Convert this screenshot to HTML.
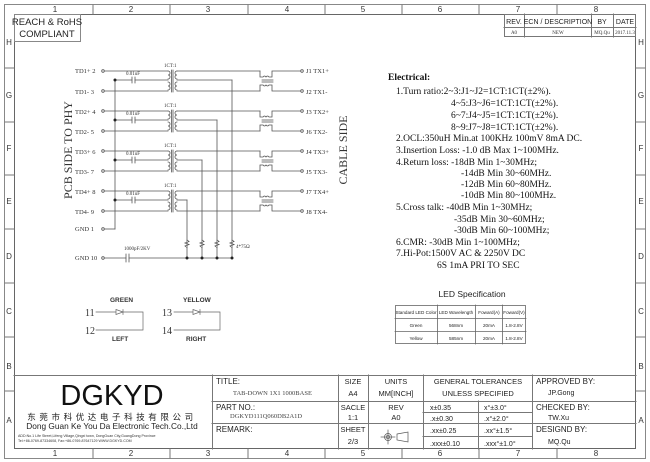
<!DOCTYPE html>
<html><head><meta charset="utf-8"><style>
html,body{margin:0;padding:0;background:#fff}
svg{display:block}
.s{font-family:"Liberation Serif",serif}
.a{font-family:"Liberation Sans",sans-serif}
</style></head><body>
<svg width="650" height="462" viewBox="0 0 650 462" xmlns="http://www.w3.org/2000/svg" stroke-linecap="square">
<rect x="0" y="0" width="650" height="462" fill="#fff"/>
<rect x="4.5" y="4.5" width="641" height="454" fill="none" stroke="#888" stroke-width="1"/>
<rect x="14.5" y="14.5" width="621" height="434" fill="none" stroke="#666" stroke-width="1"/>
<g stroke="#777" stroke-width="1">
<line x1="93" y1="5" x2="93" y2="14"/><line x1="170" y1="5" x2="170" y2="14"/><line x1="248" y1="5" x2="248" y2="14"/><line x1="325" y1="5" x2="325" y2="14"/><line x1="402" y1="5" x2="402" y2="14"/><line x1="479" y1="5" x2="479" y2="14"/><line x1="557" y1="5" x2="557" y2="14"/>
<line x1="93" y1="449" x2="93" y2="458"/><line x1="170" y1="449" x2="170" y2="458"/><line x1="248" y1="449" x2="248" y2="458"/><line x1="325" y1="449" x2="325" y2="458"/><line x1="402" y1="449" x2="402" y2="458"/><line x1="479" y1="449" x2="479" y2="458"/><line x1="557" y1="449" x2="557" y2="458"/>
<line x1="5" y1="68" x2="14" y2="68"/><line x1="5" y1="122" x2="14" y2="122"/><line x1="5" y1="175" x2="14" y2="175"/><line x1="5" y1="229" x2="14" y2="229"/><line x1="5" y1="283" x2="14" y2="283"/><line x1="5" y1="337" x2="14" y2="337"/><line x1="5" y1="391" x2="14" y2="391"/>
<line x1="636" y1="68" x2="645" y2="68"/><line x1="636" y1="122" x2="645" y2="122"/><line x1="636" y1="175" x2="645" y2="175"/><line x1="636" y1="229" x2="645" y2="229"/><line x1="636" y1="283" x2="645" y2="283"/><line x1="636" y1="337" x2="645" y2="337"/><line x1="636" y1="391" x2="645" y2="391"/>
</g>
<g class="a" font-size="8" fill="#333" text-anchor="middle">
<text x="55" y="12">1</text><text x="131" y="12">2</text><text x="208" y="12">3</text><text x="287" y="12">4</text><text x="363" y="12">5</text><text x="440" y="12">6</text><text x="518" y="12">7</text><text x="596" y="12">8</text>
<text x="55" y="456">1</text><text x="131" y="456">2</text><text x="208" y="456">3</text><text x="287" y="456">4</text><text x="363" y="456">5</text><text x="440" y="456">6</text><text x="518" y="456">7</text><text x="596" y="456">8</text>
<text x="9" y="45">H</text><text x="9" y="98">G</text><text x="9" y="151">F</text><text x="9" y="204">E</text><text x="9" y="259">D</text><text x="9" y="314">C</text><text x="9" y="369">B</text><text x="9" y="423">A</text>
<text x="641" y="45">H</text><text x="641" y="98">G</text><text x="641" y="151">F</text><text x="641" y="204">E</text><text x="641" y="259">D</text><text x="641" y="314">C</text><text x="641" y="369">B</text><text x="641" y="423">A</text>
</g>
<rect x="14.5" y="14.5" width="66" height="27" fill="none" stroke="#888"/>
<text class="a" x="47" y="25" font-size="9.5" text-anchor="middle" fill="#222">REACH &amp; RoHS</text>
<text class="a" x="47" y="37" font-size="9.5" text-anchor="middle" fill="#222">COMPLIANT</text>
<g stroke="#777" fill="none"><rect x="504.5" y="14.5" width="131" height="22"/><line x1="504" y1="27.5" x2="636" y2="27.5"/><line x1="524.5" y1="14" x2="524.5" y2="37"/><line x1="591.5" y1="14" x2="591.5" y2="37"/><line x1="613.5" y1="14" x2="613.5" y2="37"/></g>
<g class="a" font-size="7" fill="#222" text-anchor="middle"><text x="514" y="24">REV.</text><text x="558" y="24">ECN / DESCRIPTION</text><text x="602" y="24">BY</text><text x="625" y="24">DATE</text></g>
<g class="s" font-size="5" fill="#333" text-anchor="middle"><text x="514" y="34">A0</text><text x="558" y="34">NEW</text><text x="602" y="34">MQ.Qu</text><text x="625" y="34">2017.11.3</text></g>

<g class="s" font-size="6.5" fill="#333">
<text x="75" y="73">TD1+ 2</text><text x="75" y="94">TD1- 3</text><text x="75" y="114">TD2+ 4</text><text x="75" y="134">TD2- 5</text><text x="75" y="154">TD3+ 6</text><text x="75" y="174">TD3- 7</text><text x="75" y="194">TD4+ 8</text><text x="75" y="214">TD4- 9</text><text x="75" y="231">GND 1</text><text x="75" y="260">GND 10</text>
<text x="306" y="73">J1 TX1+</text><text x="306" y="94">J2 TX1-</text><text x="306" y="114">J3 TX2+</text><text x="306" y="134">J6 TX2-</text><text x="306" y="154">J4 TX3+</text><text x="306" y="174">J5 TX3-</text><text x="306" y="194">J7 TX4+</text><text x="306" y="214">J8 TX4-</text>
</g>
<g class="s" font-size="5" fill="#333">
<text x="126" y="75">0.01uF</text><text x="126" y="115">0.01uF</text><text x="126" y="155">0.01uF</text><text x="126" y="195">0.01uF</text>
<text x="164" y="67">1CT:1</text><text x="164" y="107">1CT:1</text><text x="164" y="147">1CT:1</text><text x="164" y="187">1CT:1</text>
<text x="124" y="250">1000pF/2KV</text><text x="236" y="248">4*75Ω</text>
</g>
<text class="s" transform="translate(72,150) rotate(-90)" font-size="12" text-anchor="middle" fill="#333">PCB SIDE TO PHY</text>
<text class="s" transform="translate(347,150) rotate(-90)" font-size="12" text-anchor="middle" fill="#333">CABLE SIDE</text>
<g stroke="#555" stroke-width="0.8" fill="none">
<g id="ch">
<circle cx="103" cy="71" r="1.3"/><circle cx="103" cy="91" r="1.3"/>
<line x1="105" y1="71" x2="168" y2="71"/><line x1="105" y1="91" x2="168" y2="91"/>
<line x1="115" y1="80" x2="132" y2="80"/><line x1="132" y1="77" x2="132" y2="83"/><line x1="135" y1="77" x2="135" y2="83"/><line x1="135" y1="80" x2="168" y2="80"/>
<path d="M168 71 a2 2 0 0 1 0 4 a2 2 0 0 1 0 4 M168 82 a2 2 0 0 1 0 4 a2 2 0 0 1 0 4"/>
<line x1="171.5" y1="70" x2="171.5" y2="92"/><line x1="173" y1="70" x2="173" y2="92"/>
<path d="M177 71 a2 2 0 0 0 0 4 a2 2 0 0 0 0 4 M177 82 a2 2 0 0 0 0 4 a2 2 0 0 0 0 4"/>
<line x1="177" y1="71" x2="260" y2="71"/><line x1="177" y1="91" x2="260" y2="91"/>
<path d="M260 71 v6 h3 q1.5 -2 3 0 q1.5 -2 3 0 h3 v-6 h28"/>
<path d="M260 91 v-6 h3 q1.5 2 3 0 q1.5 2 3 0 h3 v6 h28"/>
<line x1="262" y1="80" x2="273" y2="80"/><line x1="262" y1="82" x2="273" y2="82"/>
<circle cx="302" cy="71" r="1.3"/><circle cx="302" cy="91" r="1.3"/>
</g>
<use href="#ch" y="40"/><use href="#ch" y="80"/><use href="#ch" y="120"/>
<line x1="177" y1="80" x2="232" y2="80"/><line x1="232" y1="80" x2="232" y2="258"/>
<line x1="177" y1="120" x2="217" y2="120"/><line x1="217" y1="120" x2="217" y2="258"/>
<line x1="177" y1="160" x2="202" y2="160"/><line x1="202" y1="160" x2="202" y2="258"/>
<line x1="177" y1="200" x2="187" y2="200"/><line x1="187" y1="200" x2="187" y2="258"/>
<line x1="115" y1="80" x2="115" y2="229"/>
<circle cx="103" cy="229" r="1.3"/><line x1="105" y1="229" x2="115" y2="229"/>
<circle cx="103" cy="258" r="1.3"/><line x1="105" y1="258" x2="126" y2="258"/>
<line x1="126" y1="254" x2="126" y2="262"/><line x1="129" y1="254" x2="129" y2="262"/><line x1="129" y1="258" x2="232" y2="258"/>
</g>
<g stroke="#555" stroke-width="0.8" fill="#fff">
<path d="M187 240 l2 1.5 l-4 1.5 l4 1.5 l-4 1.5 l2 1.5"/><path d="M202 240 l2 1.5 l-4 1.5 l4 1.5 l-4 1.5 l2 1.5"/><path d="M217 240 l2 1.5 l-4 1.5 l4 1.5 l-4 1.5 l2 1.5"/><path d="M232 240 l2 1.5 l-4 1.5 l4 1.5 l-4 1.5 l2 1.5"/>
</g>
<g fill="#222"><circle cx="115" cy="80" r="1.5"/><circle cx="115" cy="120" r="1.5"/><circle cx="115" cy="160" r="1.5"/><circle cx="115" cy="200" r="1.5"/><circle cx="187" cy="258" r="1.5"/><circle cx="202" cy="258" r="1.5"/><circle cx="217" cy="258" r="1.5"/><circle cx="232" cy="258" r="1.5"/></g>

<g class="a" font-size="6.5" font-weight="bold" fill="#333"><text x="110" y="302">GREEN</text><text x="112" y="341">LEFT</text><text x="183" y="302">YELLOW</text><text x="186" y="341">RIGHT</text></g>
<g class="s" font-size="10" fill="#333"><text x="85" y="316">11</text><text x="85" y="334">12</text><text x="162" y="316">13</text><text x="162" y="334">14</text></g>
<g stroke="#666" stroke-width="0.7" fill="none">
<path d="M96 312 H116 M116 309.5 L123 312 L116 314.5 Z M123 309.5 V314.5 M123 312 H143 V330 H96"/>
<path d="M174 312 H193 M193 309.5 L200 312 L193 314.5 Z M200 309.5 V314.5 M200 312 H220 V330 H174"/>
</g>

<g class="s" font-size="9.5" fill="#111">
<text x="388" y="80" font-weight="bold">Electrical:</text>
<text x="396" y="94">1.Turn ratio:2~3:J1~J2=1CT:1CT(±2%).</text>
<text x="451" y="106">4~5:J3~J6=1CT:1CT(±2%).</text>
<text x="451" y="118">6~7:J4~J5=1CT:1CT(±2%).</text>
<text x="451" y="130">8~9:J7~J8=1CT:1CT(±2%).</text>
<text x="396" y="141">2.OCL:350uH Min.at 100KHz 100mV 8mA DC.</text>
<text x="396" y="153">3.Insertion Loss: -1.0 dB Max 1~100MHz.</text>
<text x="396" y="165">4.Return loss: -18dB Min 1~30MHz;</text>
<text x="461" y="176">-14dB Min 30~60MHz.</text>
<text x="461" y="187">-12dB Min 60~80MHz.</text>
<text x="461" y="198">-10dB Min 80~100MHz.</text>
<text x="396" y="210">5.Cross talk: -40dB Min 1~30MHz;</text>
<text x="454" y="222">-35dB Min 30~60MHz;</text>
<text x="454" y="233">-30dB Min 60~100MHz;</text>
<text x="396" y="245">6.CMR: -30dB Min 1~100MHz;</text>
<text x="396" y="256">7.Hi-Pot:1500V AC &amp; 2250V DC</text>
<text x="437" y="268">6S 1mA PRI TO SEC</text>
</g>

<text class="a" x="472" y="297" font-size="8.5" text-anchor="middle" fill="#222">LED Specification</text>
<g stroke="#666" stroke-width="0.8" fill="none"><rect x="395.5" y="305.5" width="130" height="38"/><line x1="395" y1="318.5" x2="526" y2="318.5"/><line x1="395" y1="331.5" x2="526" y2="331.5"/><line x1="437.5" y1="305" x2="437.5" y2="344"/><line x1="475.5" y1="305" x2="475.5" y2="344"/><line x1="502.5" y1="305" x2="502.5" y2="344"/></g>
<g class="a" font-size="4.6" fill="#222" text-anchor="middle">
<text x="416" y="314">Standard LED Color</text><text x="456" y="314">LED Wavelength</text><text x="489" y="314">Foward(A)</text><text x="514" y="314">Foward(V)</text>
<text x="416" y="327">Green</text><text x="456" y="327">568nm</text><text x="489" y="327">20mA</text><text x="514" y="327">1.8-2.8V</text>
<text x="416" y="340">Yellow</text><text x="456" y="340">585nm</text><text x="489" y="340">20mA</text><text x="514" y="340">1.8-2.8V</text>
</g>

<g stroke="#777" stroke-width="1" fill="none">
<line x1="14" y1="375.5" x2="636" y2="375.5"/>
<line x1="212.5" y1="375" x2="212.5" y2="449"/><line x1="338.5" y1="375" x2="338.5" y2="449"/><line x1="368.5" y1="375" x2="368.5" y2="449"/><line x1="423.5" y1="375" x2="423.5" y2="449"/><line x1="532.5" y1="375" x2="532.5" y2="449"/>
<line x1="478.5" y1="401" x2="478.5" y2="449"/>
<line x1="212" y1="401.5" x2="636" y2="401.5"/><line x1="212" y1="423.5" x2="636" y2="423.5"/>
<line x1="423" y1="412.5" x2="532" y2="412.5"/><line x1="423" y1="436.5" x2="532" y2="436.5"/>
</g>
<text class="a" x="112" y="405" font-size="29" text-anchor="middle" fill="#111">DGKYD</text>
<text x="112" y="420" font-family="'Noto Sans CJK SC',sans-serif" font-size="8.5" text-anchor="middle" fill="#222" letter-spacing="3.6">东莞市科优达电子科技有限公司</text>
<text class="a" x="112" y="429" font-size="8.3" text-anchor="middle" fill="#222">Dong Guan Ke You Da Electronic Tech.Co.,Ltd</text>
<text class="a" x="18" y="437" font-size="3.6" fill="#333">ADD:No.1 Life Street,Lifeng Village,Qingxi town, DongGuan City,GuangDong Province</text>
<text class="a" x="18" y="442" font-size="3.6" fill="#333">Tel:+86-0769-87334608, Fax:+86-0769-87647129  WWW.DGKYD.COM</text>
<g class="a" font-size="8" fill="#222">
<text x="216" y="384">TITLE:</text><text x="216" y="410">PART NO.:</text><text x="216" y="432">REMARK:</text>
<text x="536" y="384">APPROVED BY:</text><text x="536" y="410">CHECKED BY:</text><text x="536" y="432">DESIGND BY:</text>
</g>
<g class="s" font-size="6.5" fill="#444"><text x="233" y="395">TAB-DOWN 1X1 1000BASE</text><text x="230" y="418">DGKYD111Q060DB2A1D</text></g>
<g class="a" font-size="7.5" fill="#222" text-anchor="middle">
<text x="353" y="384">SIZE</text><text x="353" y="396">A4</text>
<text x="353" y="410">SACLE</text><text x="353" y="420">1:1</text>
<text x="353" y="432">SHEET</text><text x="353" y="444">2/3</text>
<text x="396" y="384">UNITS</text><text x="396" y="396">MM[INCH]</text>
<text x="396" y="410">REV</text><text x="396" y="420">A0</text>
<text x="478" y="384">GENERAL TOLERANCES</text><text x="478" y="396">UNLESS SPECIFIED</text>
</g>
<g class="a" font-size="7" fill="#222">
<text x="430" y="410">x±0.35</text><text x="484" y="410">x°±3.0°</text>
<text x="430" y="421">.x±0.30</text><text x="484" y="421">.x°±2.0°</text>
<text x="430" y="433">.xx±0.25</text><text x="484" y="433">.xx°±1.5°</text>
<text x="430" y="446">.xxx±0.10</text><text x="484" y="446">.xxx°±1.0°</text>
<text x="548" y="395">JP.Gong</text><text x="548" y="420">TW.Xu</text><text x="548" y="444">MQ.Qu</text>
</g>
<g stroke="#555" stroke-width="0.7" fill="none"><circle cx="388" cy="437" r="3.5"/><circle cx="388" cy="437" r="1.8"/><line x1="381" y1="437" x2="395" y2="437"/><line x1="388" y1="430" x2="388" y2="444"/><path d="M397 434 L408 432 V442 L397 440 Z"/></g>
</svg>
</body></html>
